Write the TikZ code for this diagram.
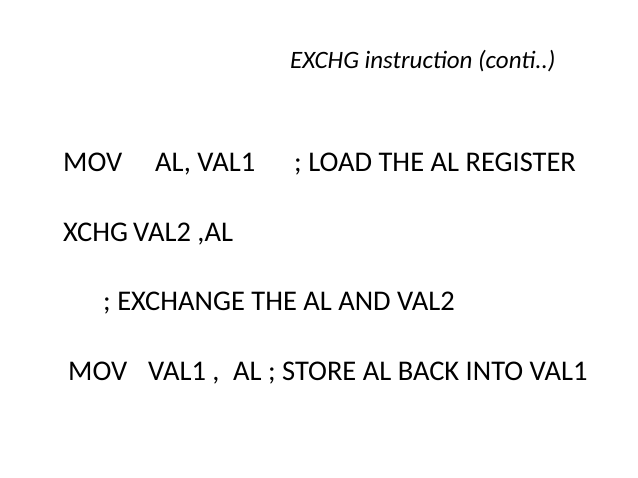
\documentclass[tikz,border=0pt]{standalone}
\usepackage{fontspec}
\setmainfont{Carlito}
\begin{document}
\begin{tikzpicture}[x=1pt,y=-1pt,
  big/.style={anchor=base west,inner sep=0pt,font=\fontsize{28.5}{32}\selectfont},
  ttl/.style={anchor=base west,inner sep=0pt,font=\fontsize{25}{28}\selectfont\itshape}]
\useasboundingbox[fill=white] (0,0) rectangle (638,478);
\node[ttl] (t) at (290,69) {EXCHG instruction (conti..)};
\node[big] (a1) at (63,172) {MOV};
\node[big] (a2) at (155,172) {AL, VAL1};
\node[big] (a3) at (294,172) {; LOAD THE AL REGISTER};
\node[big] (b1) at (63,242) {XCHG};
\node[big] (b2) at (133,242) {VAL2 ,AL};
\node[big] (c1) at (103,311) {; EXCHANGE THE AL AND VAL2};
\node[big] (d1) at (68,381) {MOV};
\node[big] (d2) at (148,381) {VAL1 ,};
\node[big] (d3) at (233,381) {AL ; STORE AL BACK INTO VAL1};
\end{tikzpicture}
\end{document}
